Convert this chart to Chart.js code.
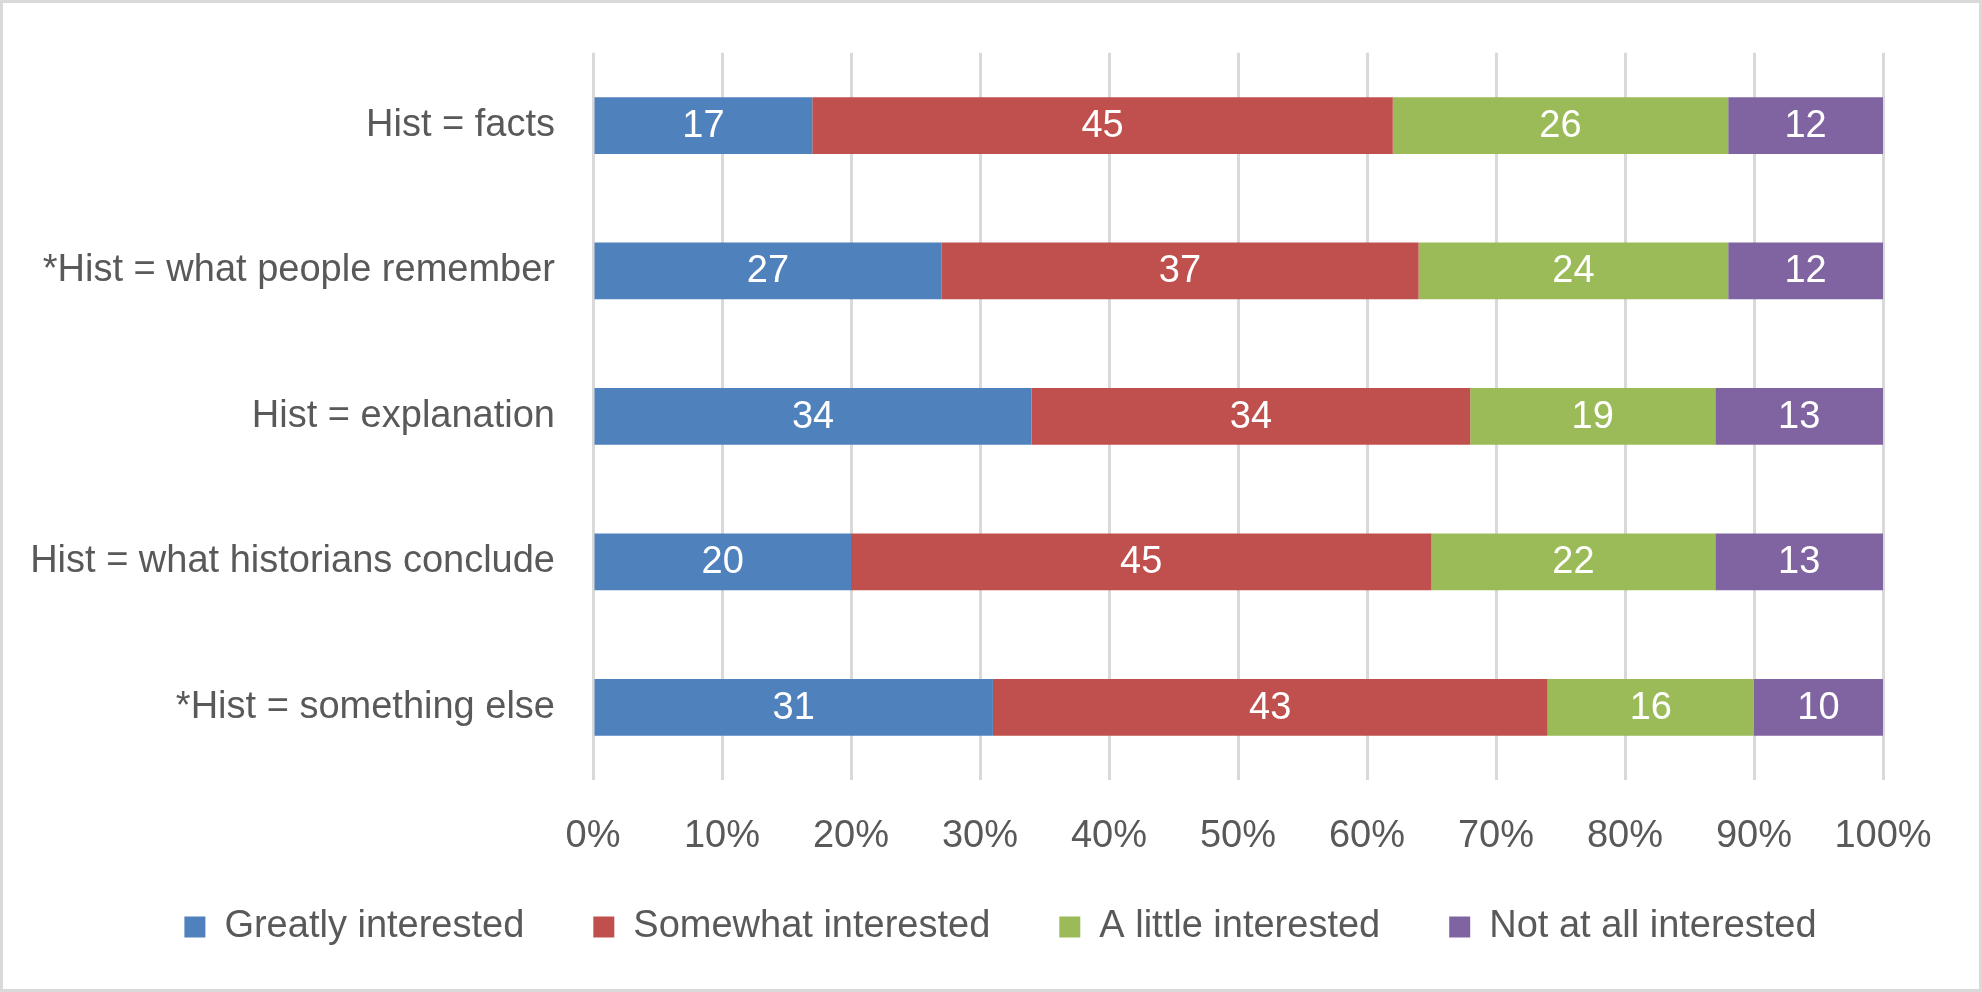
<!DOCTYPE html>
<html>
<head>
<meta charset="utf-8">
<script src="https://cdn.jsdelivr.net/npm/chart.js@4/dist/chart.umd.min.js"></script>
<style>
  body { margin: 0; background: #fff; }
  #wrap { width: 1982px; height: 992px; }
</style>
</head>
<body>
<div id="wrap"><canvas id="chart" width="1982" height="992"></canvas></div>
<script>
// Data
const categories = [
  "Hist = facts",
  "*Hist = what people remember",
  "Hist = explanation",
  "Hist = what historians conclude",
  "*Hist = something else"
];
const greatly   = [17, 27, 34, 20, 31];
const somewhat  = [45, 37, 34, 45, 43];
const aLittle   = [26, 24, 19, 22, 16];
const notAtAll  = [12, 12, 13, 13, 10];
const xTicks = [0, 10, 20, 30, 40, 50, 60, 70, 80, 90, 100];

const FONT = "'Liberation Sans', Arial, sans-serif";
const TEXT = "#595959";

// White background + light gray frame
const framePlugin = {
  id: "frame",
  beforeDraw(chart) {
    const c = chart.ctx;
    c.save();
    c.fillStyle = "#fff";
    c.fillRect(0, 0, chart.width, chart.height);
    c.restore();
  },
  afterDraw(chart) {
    const c = chart.ctx;
    c.save();
    c.strokeStyle = "#D9D9D9";
    c.lineWidth = 3;
    c.strokeRect(1.5, 1.5, chart.width - 3, chart.height - 3);
    c.restore();
  }
};

// Legend sits centred on the whole figure, a little higher
const legendShift = {
  id: "legendShift",
  afterLayout(chart) {
    const lg = chart.legend;
    lg.left += 54; lg.right += 54;
    lg.top -= 15; lg.bottom -= 15;
  }
};

// Value labels centred in each segment
const valueLabels = {
  id: "valueLabels",
  afterDatasetsDraw(chart) {
    const c = chart.ctx;
    c.save();
    c.font = "38px " + FONT;
    c.fillStyle = "#fff";
    c.textAlign = "center";
    c.textBaseline = "middle";
    chart.data.datasets.forEach((ds, i) => {
      chart.getDatasetMeta(i).data.forEach((bar, j) => {
        c.fillText(ds.data[j], (bar.x + bar.base) / 2, bar.y + 1);
      });
    });
    c.restore();
  }
};

new Chart(document.getElementById("chart"), {
  type: "bar",
  data: {
    labels: categories,
    datasets: [
      { label: "Greatly interested", data: greatly, backgroundColor: "#4F81BD" },
      { label: "Somewhat interested", data: somewhat, backgroundColor: "#C0504D" },
      { label: "A little interested", data: aLittle, backgroundColor: "#9BBB59" },
      { label: "Not at all interested", data: notAtAll, backgroundColor: "#8064A2" }
    ]
  },
  options: {
    indexAxis: "y",
    responsive: false,
    animation: false,
    barPercentage: 0.39,
    categoryPercentage: 1,
    layout: { padding: { top: 39, left: 10, right: 99, bottom: 21 } },
    plugins: {
      tooltip: { enabled: false },
      legend: {
        position: "bottom",
        labels: {
          boxWidth: 21,
          boxHeight: 21,
          padding: 69,
          color: TEXT,
          font: { family: FONT, size: 38 }
        }
      }
    },
    scales: {
      x: {
        stacked: true,
        min: 0,
        max: 100,
        afterBuildTicks(scale) {
          scale.ticks = xTicks.map(v => ({ value: v }));
        },
        afterFit(scale) { scale.height = 74; },
        grid: { color: "#D9D9D9", lineWidth: 3, drawTicks: false },
        border: { display: false },
        ticks: {
          padding: 34,
          color: TEXT,
          font: { family: FONT, size: 38 },
          callback: v => v + "%"
        }
      },
      y: {
        stacked: true,
        afterFit(scale) { scale.width = 583; },
        grid: { display: false },
        border: { display: false },
        ticks: {
          padding: 30,
          color: TEXT,
          font: { family: FONT, size: 38 }
        }
      }
    }
  },
  plugins: [framePlugin, legendShift, valueLabels]
});
</script>
</body>
</html>
